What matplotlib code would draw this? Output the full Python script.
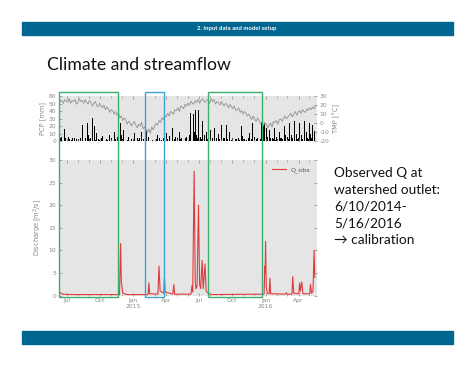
import pandas as pd
import matplotlib
matplotlib.use("Agg")
import matplotlib.pyplot as plt
import matplotlib.dates as mdates
from matplotlib.patches import Rectangle
from matplotlib.transforms import blended_transform_factory

plt.rcParams["axes.unicode_minus"] = False

# --- slide text ---
header_text = "2. Input data and model setup"
title_text = "Climate and streamflow"
note_lines = ["Observed Q at", "watershed outlet:", "6/10/2014-", "5/16/2016", "\u2192 calibration"]

# --- precipitation events [mm] (days not listed are dry) ---
pcp_dates = [
    "2014-06-14", "2014-06-18", "2014-06-25", "2014-06-28", "2014-07-05", "2014-07-10",
    "2014-07-18", "2014-07-24", "2014-08-02", "2014-08-13", "2014-08-18", "2014-08-22",
    "2014-08-27", "2014-08-30", "2014-09-05", "2014-09-11", "2014-09-15", "2014-09-22",
    "2014-09-28", "2014-10-05", "2014-10-09", "2014-10-15", "2014-10-28", "2014-11-03",
    "2014-11-09", "2014-11-18", "2014-11-22", "2014-11-26", "2014-11-29", "2014-12-06",
    "2014-12-12", "2014-12-20", "2014-12-27", "2015-01-05", "2015-01-12", "2015-01-23",
    "2015-01-28", "2015-02-06", "2015-02-12", "2015-02-19", "2015-03-02", "2015-03-10",
    "2015-03-14", "2015-03-25", "2015-04-02", "2015-04-10", "2015-04-20", "2015-04-28",
    "2015-05-03", "2015-05-09", "2015-05-15", "2015-05-21", "2015-05-27", "2015-06-01",
    "2015-06-05", "2015-06-08", "2015-06-12", "2015-06-15", "2015-06-18", "2015-06-21",
    "2015-06-25", "2015-07-01", "2015-07-05", "2015-07-12", "2015-07-17", "2015-07-22",
    "2015-07-28", "2015-08-03", "2015-08-08", "2015-08-13", "2015-08-18", "2015-08-23",
    "2015-09-01", "2015-09-06", "2015-09-15", "2015-09-24", "2015-10-02", "2015-10-10",
    "2015-10-18", "2015-10-26", "2015-10-29", "2015-11-05", "2015-11-18", "2015-11-27",
    "2015-12-02", "2015-12-10", "2015-12-21", "2015-12-24", "2015-12-27", "2015-12-30",
    "2016-01-03", "2016-01-07", "2016-01-12", "2016-01-19", "2016-01-26", "2016-02-01",
    "2016-02-08", "2016-02-14", "2016-02-22", "2016-02-26", "2016-03-02", "2016-03-07",
    "2016-03-12", "2016-03-21", "2016-03-26", "2016-04-04", "2016-04-09", "2016-04-17",
    "2016-04-22", "2016-05-01", "2016-05-05", "2016-05-10", "2016-05-14",
    # light rain days
    "2014-06-21", "2014-07-02", "2014-07-14", "2014-07-28", "2014-08-07", "2014-08-09",
    "2014-09-01", "2014-09-19", "2014-10-01", "2014-10-20", "2014-10-23", "2014-11-13",
    "2014-12-02", "2014-12-16", "2015-01-01", "2015-01-16", "2015-01-19", "2015-02-24",
    "2015-03-06", "2015-03-19", "2015-04-06", "2015-04-15", "2015-04-24", "2015-05-12",
    "2015-05-24", "2015-06-28", "2015-07-08", "2015-07-25", "2015-08-28", "2015-09-10",
    "2015-09-19", "2015-09-28", "2015-10-06", "2015-10-14", "2015-10-22", "2015-11-01",
    "2015-11-10", "2015-11-14", "2015-11-22", "2015-12-06", "2015-12-14", "2015-12-17",
    "2016-01-15", "2016-01-22", "2016-01-29", "2016-02-04", "2016-02-11", "2016-02-18",
    "2016-03-04", "2016-03-16", "2016-03-29", "2016-04-01", "2016-04-13", "2016-04-26",
    "2016-04-29", "2016-05-08",
]
pcp_mm = [
    4, 6, 16, 5, 6, 3,
    5, 4, 3, 22, 20, 5,
    24, 8, 4, 31, 20, 11,
    3, 4, 7, 3, 9, 4,
    13, 6, 20, 25, 8, 15,
    5, 6, 3, 11, 4, 13,
    3, 15, 6, 5, 3, 8,
    4, 5, 11, 7, 18, 6,
    4, 13, 5, 20, 6, 33,
    8, 38, 10, 36, 12, 42,
    9, 42, 6, 27, 8, 13,
    4, 15, 5, 18, 4, 10,
    22, 5, 22, 13, 4, 3,
    5, 20, 7, 3, 11, 24,
    6, 4, 24, 15, 20, 24,
    18, 6, 15, 5, 18, 6,
    13, 5, 20, 8, 6, 24,
    9, 27, 10, 24, 8, 27,
    12, 24, 10, 22, 14,
    2, 3, 2, 3, 2, 4,
    3, 2, 2, 3, 2, 3,
    3, 2, 3, 2, 4, 2,
    3, 2, 3, 4, 3, 3,
    4, 4, 3, 3, 3, 4,
    3, 2, 2, 3, 2, 3,
    2, 4, 3, 3, 5, 3,
    4, 3, 2, 3, 4, 3,
    3, 4, 3, 4, 3, 4,
    3, 4,
]

# --- air temperature [deg C], every 4 days from 2014-06-10 ---
tmp_start = "2014-06-10"
tmp_c = [
    27, 24, 25, 22, 26, 25, 23, 27, 22, 25,
    24, 26, 21, 23, 27, 24, 25, 22, 26, 23,
    21, 25, 23, 19, 22, 24, 20, 18, 22, 19,
    17, 20, 15, 18, 16, 12, 15, 14, 10, 13,
    9, 11, 6, 8, 3, 6, 4, -1, 2, 1,
    -3, 0, 2, -2, -5, -1, -3, 1, -6, -4,
    -8, -10, -6, -11, -4, -7, -3, 0, -2, 3,
    1, 6, 4, 9, 7, 11, 8, 13, 12, 10,
    15, 14, 17, 13, 19, 18, 16, 21, 19, 22,
    20, 24, 22, 21, 25, 23, 26, 22, 25, 27,
    24, 23, 26, 25, 22, 27, 24, 26, 21, 24,
    23, 20, 24, 21, 19, 22, 20, 17, 21, 18,
    16, 19, 14, 15, 17, 12, 14, 10, 13, 11,
    8, 10, 7, 4, 8, 5, 2, 6, 3, 0,
    2, -3, 1, -1, -5, -2, 0, -4, 2, 1,
    3, -1, 4, 5, 2, 6, 8, 5, 7, 9,
    11, 7, 10, 13, 9, 12, 14, 11, 15, 13,
    12, 16, 14, 17, 15, 18, 16, 19,
]

# --- observed discharge [m3/s] ---
q_dates = [
    "2014-06-10", "2014-06-14", "2014-06-20", "2014-07-15", "2014-11-24", "2014-11-27",
    "2014-11-29", "2014-12-03", "2014-12-15", "2015-02-11", "2015-02-13", "2015-02-15",
    "2015-03-10", "2015-03-13", "2015-03-16", "2015-03-26", "2015-03-28", "2015-03-30",
    "2015-04-20", "2015-04-23", "2015-04-25", "2015-06-09", "2015-06-12", "2015-06-14",
    "2015-06-18", "2015-06-21", "2015-06-23", "2015-06-26", "2015-06-30", "2015-07-03",
    "2015-07-06", "2015-07-10", "2015-07-13", "2015-07-18", "2015-07-21", "2015-07-27",
    "2015-08-05", "2015-12-28", "2015-12-30", "2015-12-31", "2016-01-01", "2016-01-03",
    "2016-01-06", "2016-01-11", "2016-01-13", "2016-01-15", "2016-02-25", "2016-02-27",
    "2016-03-01", "2016-03-14", "2016-03-16", "2016-03-19", "2016-04-02", "2016-04-04",
    "2016-04-06", "2016-04-10", "2016-04-13", "2016-05-02", "2016-05-04", "2016-05-07",
    "2016-05-11", "2016-05-14", "2016-05-16",
]
q_obs = [
    0.3, 0.6, 0.3, 0.2, 0.2, 11.5,
    3.0, 0.5, 0.2, 0.2, 2.8, 0.4,
    0.3, 6.5, 1.0, 0.5, 4.0, 0.8,
    0.3, 2.4, 0.3, 0.3, 2.2, 0.8,
    27.5, 3.0, 1.5, 2.0, 20.0, 2.5,
    1.5, 7.8, 1.5, 7.0, 1.0, 0.5,
    0.2, 0.3, 6.5, 5.0, 12.0, 2.0,
    0.5, 0.4, 3.8, 0.4, 0.3, 0.6,
    0.3, 0.3, 4.2, 0.5, 0.4, 2.8,
    1.0, 3.0, 0.4, 0.4, 2.5, 0.5,
    1.0, 10.0, 4.0,
]

# --- highlighted periods ---
box_starts = ["2014-06-10", "2015-02-02", "2015-07-26"]
box_ends = ["2014-11-21", "2015-03-26", "2015-12-22"]
box_colors = ["#3dae6e", "#3aa6d6", "#3dae6e"]

# --- x axis ---
xlim = ("2014-06-10", "2016-05-22")
xtick_dates = ["2014-07-01", "2014-10-01", "2015-01-01", "2015-04-01",
               "2015-07-01", "2015-10-01", "2016-01-01", "2016-04-01"]
xtick_labels = ["Jul", "Oct", "Jan\n2015", "Apr", "Jul", "Oct", "Jan\n2016", "Apr"]

W, H = 474, 366
BAR = "#00668f"
BG = "#e5e5e5"
TICK = "#8a8a8a"

fig = plt.figure(figsize=(W / 100, H / 100), dpi=100)


def fx(px):
    return px / W


def fy(py):
    return 1 - py / H


# slide bars and text
fig.add_artist(Rectangle((fx(21.5), fy(34.5)), fx(431), 12.8 / H, color=BAR, transform=fig.transFigure))
fig.add_artist(Rectangle((fx(21.5), fy(344)), fx(431), 13 / H, color=BAR, transform=fig.transFigure))
fig.text(fx(237), fy(28.3), header_text, color="white", fontsize=4.3, fontweight="bold",
         family=["Lato", "DejaVu Sans"], ha="center", va="center")
fig.text(fx(47), fy(65), title_text, fontsize=12.7, family=["Lato", "DejaVu Sans"],
         ha="left", va="center", color="#111111")
for i, line in enumerate(note_lines):
    fig.text(fx(334), fy(173 + i * 16.7), line, fontsize=9.8, family=["Lato", "DejaVu Sans"],
             ha="left", va="center", color="#111111")

x0 = pd.Timestamp(xlim[0])
x1 = pd.Timestamp(xlim[1])
month_ticks = pd.date_range("2014-07-01", "2016-05-01", freq="MS")


def style(ax):
    ax.set_facecolor(BG)
    for s in ax.spines.values():
        s.set_visible(False)
    ax.set_xlim(x0, x1)
    ax.set_xticks(pd.to_datetime(xtick_dates))
    ax.set_xticks(month_ticks, minor=True)
    ax.tick_params(axis="both", which="both", direction="in", color=TICK, labelcolor=TICK,
                   labelsize=4.3, width=0.5, top=True, pad=2)
    ax.tick_params(which="major", length=2.5)
    ax.tick_params(which="minor", length=1.5)


# top panel: precipitation + temperature
ax1 = fig.add_axes([fx(59), fy(141.5), fx(258), 45.5 / H])
style(ax1)
ax1.bar(pd.to_datetime(pcp_dates), pcp_mm, width=2.5, color="black", linewidth=0)
ax1.set_ylim(0, 60)
ax1.set_yticks(range(0, 61, 10))
ax1.set_xticklabels([])
ax1.set_ylabel("PCP [mm]", fontsize=4.8, color=TICK, labelpad=2)

ax1t = ax1.twinx()
tmp_dates = pd.date_range(tmp_start, periods=len(tmp_c), freq="4D")
ax1t.plot(tmp_dates, tmp_c, color="#909090", linewidth=0.6)
ax1t.set_ylim(-20, 30)
ax1t.set_yticks(range(-20, 31, 10))
for s in ax1t.spines.values():
    s.set_visible(False)
ax1t.tick_params(axis="y", direction="in", color=TICK, labelcolor=TICK, labelsize=4.3,
                 width=0.5, length=2.5, pad=2)
ax1t.set_ylabel("TMP [\u00b0C]", fontsize=4.8, color=TICK, labelpad=2)
ax1.tick_params(axis="y", right=False)

# bottom panel: discharge
ax2 = fig.add_axes([fx(59), fy(295.5), fx(258), 135.5 / H])
style(ax2)
ax2.tick_params(axis="y", right=True)
ax2.plot(pd.to_datetime(q_dates), q_obs, color="#e03a3c", linewidth=0.8, label="Q_obs")
ax2.set_ylim(0, 30)
ax2.set_yticks(range(0, 31, 5))
ax2.set_xticklabels(xtick_labels)
ax2.set_ylabel("Discharge [m$^3$/s]", fontsize=4.8, color=TICK, labelpad=3)
leg = ax2.legend(loc="upper right", fontsize=4.6, frameon=False, handlelength=2.2,
                 borderaxespad=0.6)
for t in leg.get_texts():
    t.set_color("#555555")

# period boxes spanning both panels
tr = blended_transform_factory(ax2.transData, fig.transFigure)
for s, e, c in zip(box_starts, box_ends, box_colors):
    d0 = mdates.date2num(pd.Timestamp(s))
    d1 = mdates.date2num(pd.Timestamp(e))
    fig.add_artist(Rectangle((d0, fy(297)), d1 - d0, fy(92) - fy(297), transform=tr,
                             fill=False, edgecolor=c, linewidth=1.0, clip_on=False))

fig.savefig("out.png", dpi=100)
